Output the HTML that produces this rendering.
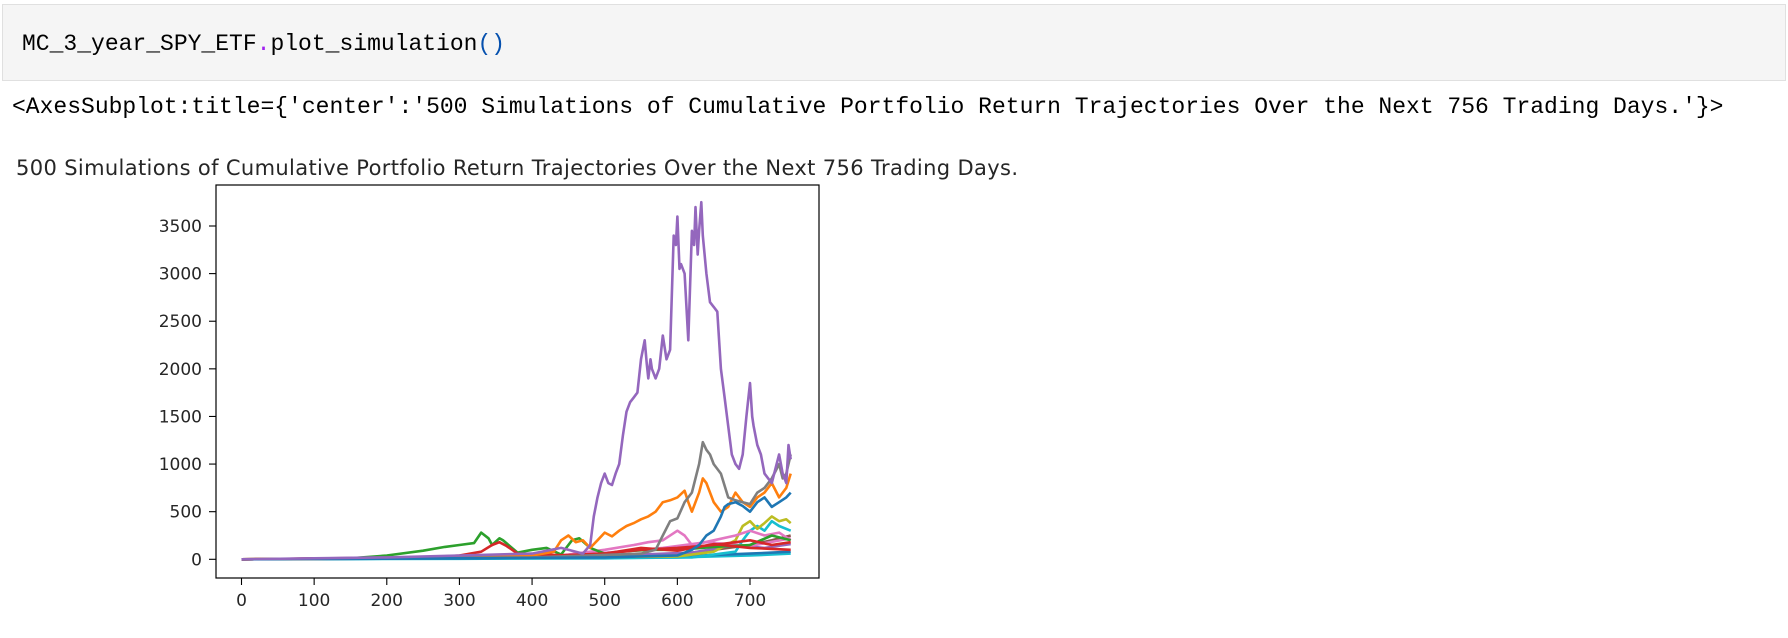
<!DOCTYPE html>
<html><head><meta charset="utf-8">
<style>
html,body{margin:0;padding:0;background:#fff;width:1788px;height:638px;overflow:hidden;position:relative}
#cell{position:absolute;left:2px;top:4px;width:1784px;height:77px;background:#f5f5f5;border:1px solid #e0e0e0;box-sizing:border-box}
#code{position:absolute;left:22px;top:33px;font:23px "Liberation Mono",monospace;color:#000;white-space:pre;line-height:23px}
#out{position:absolute;left:12px;top:96px;font:23px "Liberation Mono",monospace;color:#000;white-space:pre;line-height:23px}
svg{position:absolute;left:0;top:0}
</style></head><body>
<div id="cell"></div>
<div id="code">MC_3_year_SPY_ETF<span style="color:#a020f0">.</span>plot_simulation<span style="color:#0550ae">()</span></div>
<div id="out">&lt;AxesSubplot:title={'center':'500 Simulations of Cumulative Portfolio Return Trajectories Over the Next 756 Trading Days.'}&gt;</div>
<svg id="chart" width="1788" height="638"></svg>
<script>
const yTicks=[0,500,1000,1500,2000,2500,3000,3500];
const xTicks=[0,100,200,300,400,500,600,700];
const purpleDays=[0,100,200,300,400,440,470,480,485,490,495,500,505,510,515,520,525,530,535,540,545,550,555,558,560,563,565,570,575,580,585,590,595,598,600,603,605,610,615,620,623,625,628,630,633,635,640,645,650,655,660,665,670,675,680,685,690,695,700,703,705,710,715,720,725,730,735,740,745,750,753,756];
const purpleVals=[0,10,20,40,60,120,60,150,450,650,800,900,800,780,900,1000,1300,1550,1650,1700,1750,2100,2300,2050,1900,2100,2000,1900,2000,2350,2100,2200,3400,3300,3600,3050,3100,3000,2300,3450,3300,3700,3200,3450,3750,3400,3000,2700,2650,2600,2000,1700,1400,1100,1000,950,1100,1500,1850,1500,1400,1200,1100,900,850,800,950,1100,900,800,1200,1050];
const grayDays=[0,400,550,570,580,590,600,610,620,630,635,640,645,650,660,670,680,690,700,710,720,730,740,745,750,756];
const grayVals=[0,20,60,100,250,400,430,600,700,1000,1230,1150,1100,1000,900,650,620,600,580,700,750,850,1000,850,900,1100];
const orangeDays=[0,200,300,400,430,440,450,460,470,480,490,500,510,520,530,540,550,560,570,580,590,600,610,615,620,630,635,640,650,660,670,680,690,700,710,720,730,740,750,756];
const orangeVals=[0,10,30,40,80,200,250,180,200,120,200,280,240,300,350,380,420,450,500,600,620,650,720,600,500,700,850,800,600,500,550,700,600,550,650,700,800,650,750,900];
const blueDays=[0,300,500,600,620,630,640,650,660,665,670,680,690,700,710,720,730,740,750,756];
const blueVals=[0,10,20,40,100,150,250,300,450,550,580,600,560,500,600,650,550,600,650,700];
const greenDays=[0,150,200,250,280,300,320,330,340,345,355,360,380,400,420,440,455,465,480,500,520,560,600,650,700,730,756];
const greenVals=[0,10,40,90,130,150,170,280,220,150,220,200,70,100,120,50,200,220,120,60,80,100,100,130,150,250,200];
const redDays=[0,250,300,330,345,355,365,380,420,450,500,550,600,650,700,730,756];
const redVals=[0,20,40,80,150,180,140,60,50,40,60,100,120,150,200,150,180];
const pinkDays=[0,400,450,500,540,560,580,600,610,620,650,680,700,720,740,756];
const pinkVals=[0,20,50,100,150,180,200,300,250,150,200,250,300,250,280,200];
const oliveDays=[0,600,650,680,690,700,710,720,730,740,750,756];
const oliveVals=[0,30,80,200,350,400,320,380,450,400,420,380];
const cyanDays=[0,620,680,690,700,710,720,730,740,756];
const cyanVals=[0,20,80,200,300,350,300,400,350,300];
const brownDays=[0,500,600,650,700,730,756];
const brownVals=[0,20,50,100,150,200,250];
const tealDays=[0,300,500,600,700,756];
const tealVals=[0,5,10,20,40,60];
const red2Days=[0,400,500,550,600,650,700,756];
const red2Vals=[0,30,60,120,90,160,120,100];
const pink2Days=[0,450,520,580,640,700,756];
const pink2Vals=[0,40,80,120,180,140,220];
const purple2Days=[0,450,550,620,680,720,756];
const purple2Vals=[0,30,50,70,150,120,160];
const blue2Days=[0,500,600,700,756];
const blue2Vals=[0,15,30,60,80];
const series=[
 {name:'sim-teal',c:'#17becf',d:tealDays,v:tealVals},
 {name:'sim-blue-low',c:'#1f77b4',d:blue2Days,v:blue2Vals},
 {name:'sim-brown',c:'#8c564b',d:brownDays,v:brownVals},
 {name:'sim-purple-low',c:'#9467bd',d:purple2Days,v:purple2Vals},
 {name:'sim-cyan',c:'#17becf',d:cyanDays,v:cyanVals},
 {name:'sim-olive',c:'#bcbd22',d:oliveDays,v:oliveVals},
 {name:'sim-pink-low',c:'#e377c2',d:pink2Days,v:pink2Vals},
 {name:'sim-pink',c:'#e377c2',d:pinkDays,v:pinkVals},
 {name:'sim-green',c:'#2ca02c',d:greenDays,v:greenVals},
 {name:'sim-red-low',c:'#d62728',d:red2Days,v:red2Vals},
 {name:'sim-red',c:'#d62728',d:redDays,v:redVals},
 {name:'sim-orange',c:'#ff7f0e',d:orangeDays,v:orangeVals},
 {name:'sim-gray',c:'#7f7f7f',d:grayDays,v:grayVals},
 {name:'sim-blue',c:'#1f77b4',d:blueDays,v:blueVals},
 {name:'sim-purple',c:'#9467bd',d:purpleDays,v:purpleVals}
];
const L=216,T=185,R=819,B=578;
const xs=d=>241.5+d*(750-241.5)/700;
const ys=v=>559.3-v*333.3/3500;
const NS='http://www.w3.org/2000/svg';
const svg=document.getElementById('chart');
function mk(tag,attrs){const e=document.createElementNS(NS,tag);for(const k in attrs)e.setAttribute(k,attrs[k]);svg.appendChild(e);return e;}
const title=mk('text',{x:517,y:175,'text-anchor':'middle','font-family':'DejaVu Sans, Liberation Sans, sans-serif','font-size':21,fill:'#262626',textLength:1002});
title.textContent='500 Simulations of Cumulative Portfolio Return Trajectories Over the Next 756 Trading Days.';


const bg=mk('rect',{x:L,y:T,width:R-L,height:B-T,fill:'#fff'});


series.forEach(s=>{
  let p='';
  s.d.forEach((d,i)=>{p+=(i?'L':'M')+xs(d).toFixed(1)+','+ys(s.v[i]).toFixed(1);});
  const el=mk('path',{d:p,fill:'none',stroke:s.c,'stroke-width':2.6,'stroke-linejoin':'round'});
  
  
});
const frame=mk('rect',{x:L,y:T,width:R-L,height:B-T,fill:'none',stroke:'#000','stroke-width':1.2});


yTicks.forEach(t=>{
  const y=ys(t);
  const tk=mk('line',{x1:L-7,x2:L,y1:y,y2:y,stroke:'#000','stroke-width':1.1});
  
  
  const lb=mk('text',{x:L-14,y:y+6,'text-anchor':'end','font-family':'DejaVu Sans, sans-serif','font-size':17,fill:'#262626'});
  lb.textContent=t;
  
  
});
xTicks.forEach(t=>{
  const x=xs(t);
  const tk=mk('line',{x1:x,x2:x,y1:B,y2:B+7,stroke:'#000','stroke-width':1.1});
  
  
  const lb=mk('text',{x:x,y:B+28,'text-anchor':'middle','font-family':'DejaVu Sans, sans-serif','font-size':17,fill:'#262626'});
  lb.textContent=t;
  
  
});
</script>
</body></html>
